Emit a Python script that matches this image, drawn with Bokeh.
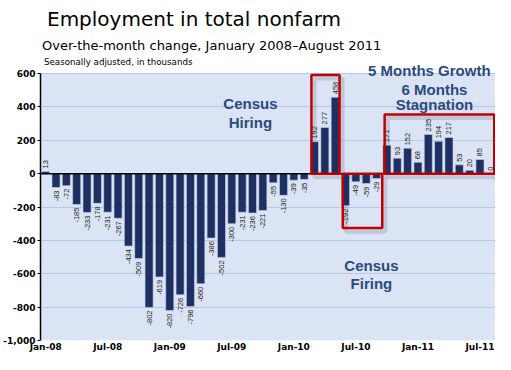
from bokeh.plotting import figure
from bokeh.models import (Range1d, FixedTicker, NumeralTickFormatter, Span, Label,
                          BoxAnnotation, ColumnDataSource)
from bokeh.core.properties import value
from bokeh.embed import file_html
from bokeh.resources import INLINE
import math

# ---- data (thousands, over-the-month change, Jan 2008 - Aug 2011) ----
changes = [13, -83, -72, -185, -233, -178, -231, -267, -434, -509, -802, -619,
           -820, -726, -796, -660, -386, -502, -300, -231, -236, -221, -55, -130,
           -39, -35, 192, 277, 458, -192, -49, -59, -29, 171, 93, 152,
           68, 235, 194, 217, 53, 20, 85, 0]
tick_labels = ["Jan-08", "Jul-08", "Jan-09", "Jul-09", "Jan-10", "Jul-10", "Jan-11", "Jul-11"]
y_ticks = [-1000, -800, -600, -400, -200, 0, 200, 400, 600]

months = list(range(len(changes)))
tick_pos = [i * 6 for i in range(len(tick_labels))]

# annotation groups: (first month index, last month index)
hiring = (26, 28)
firing = (29, 32)
stagnation = (33, 43)

NAVY = "#1e2f62"
ANN = "#2b4a7e"
RED = "#c00000"
Y_MIN, Y_MAX = y_ticks[0], y_ticks[-1]
Y_TOP = 1038  # frame extends above the blue plot area to hold the titles

p = figure(width=495, height=354, x_range=Range1d(-0.5, 43.5), y_range=Range1d(Y_MIN, Y_TOP),
           output_backend="svg", toolbar_location=None,
           min_border_left=34, min_border_right=0, min_border_top=0, min_border_bottom=0)
p.background_fill_color = "white"
p.border_fill_color = "white"
p.outline_line_color = None

p.add_layout(BoxAnnotation(bottom=Y_MIN, top=Y_MAX, fill_color="#dbe4f4", fill_alpha=1,
                           line_color=None, level="image"))

p.xgrid.visible = False
p.ygrid.ticker = FixedTicker(ticks=y_ticks)
p.ygrid.grid_line_color = "#b5c8e9"
p.ygrid.grid_line_width = 1

# y axis
p.yaxis.ticker = FixedTicker(ticks=y_ticks)
p.yaxis.bounds = (Y_MIN, Y_MAX)
p.yaxis.formatter = NumeralTickFormatter(format="0,0")
p.yaxis.axis_line_color = "black"
p.yaxis.axis_line_width = 1.5
p.yaxis.major_tick_line_color = "black"
p.yaxis.major_tick_out = 3
p.yaxis.major_tick_in = 0
p.yaxis.minor_tick_line_color = None
p.yaxis.minor_tick_out = 0
p.yaxis.minor_tick_in = 0
p.yaxis.axis_label_standoff = 0
p.yaxis.major_label_standoff = 2
p.yaxis.major_label_text_font = "DejaVu Sans"
p.yaxis.major_label_text_font_style = "bold"
p.yaxis.major_label_text_font_size = "9px"
p.yaxis.major_label_text_color = "black"

# x axis
p.xaxis.ticker = FixedTicker(ticks=tick_pos)
p.xaxis.major_label_overrides = {t: l for t, l in zip(tick_pos, tick_labels)}
p.xaxis.axis_line_color = None
p.xaxis.major_tick_line_color = None
p.xaxis.minor_tick_line_color = None
p.xaxis.major_tick_out = 0
p.xaxis.major_tick_in = 0
p.xaxis.minor_tick_out = 0
p.xaxis.minor_tick_in = 0
p.xaxis.axis_label_standoff = 0
p.xaxis.major_label_standoff = 1
p.xaxis.major_label_text_font = "DejaVu Sans"
p.xaxis.major_label_text_font_style = "bold"
p.xaxis.major_label_text_font_size = "9px"
p.xaxis.major_label_text_color = "black"

# red boxes with soft shadows
def add_box(group, pad_l, pad_r, bottom, top):
    l, r = group[0] - pad_l, group[1] + pad_r
    p.add_layout(BoxAnnotation(left=l + 0.3, right=r + 0.3, bottom=bottom - 22, top=top - 22,
                               fill_alpha=0, line_color="#7d8699", line_alpha=0.3,
                               line_width=4, level="underlay"))
    p.add_layout(BoxAnnotation(left=l, right=r, bottom=bottom, top=top,
                               fill_alpha=0, line_color=RED, line_alpha=1, line_width=2.5,
                               level="overlay"))

# bars
src = ColumnDataSource(dict(x=months, top=changes))
p.vbar(x="x", top="top", bottom=0, width=0.78, source=src, fill_color=NAVY,
       line_color="#c9d5ee", line_width=0.6)

p.add_layout(Span(location=0, dimension="width", line_color="black", line_width=1.5))

# value labels
pos = [(m, v) for m, v in zip(months, changes) if v >= 0]
neg = [(m, v) for m, v in zip(months, changes) if v < 0]
src_pos = ColumnDataSource(dict(x=[a for a, _ in pos], y=[b for _, b in pos], t=[str(b) for _, b in pos]))
src_neg = ColumnDataSource(dict(x=[a for a, _ in neg], y=[b for _, b in neg], t=[str(b) for _, b in neg]))
p.text(x="x", y="y", text="t", source=src_pos, angle=math.pi / 2, text_align="left",
       text_baseline="middle", y_offset=-3, text_font=value("Liberation Sans"),
       text_font_size="7.5px", text_color="#1a1a1a")
p.text(x="x", y="y", text="t", source=src_neg, angle=math.pi / 2, text_align="right",
       text_baseline="middle", y_offset=3, text_font=value("Liberation Sans"),
       text_font_size="7.5px", text_color="#1a1a1a")

add_box(hiring, 0.3, 0.42, 0, 592)
add_box(firing, 0.27, 0.55, -326, 0)
add_box(stagnation, 0.22, 0.38, 0, 355)

# annotation texts
def ann(text, x, y):
    p.add_layout(Label(x=x, y=y, text=text, text_align="center", text_baseline="alphabetic",
                       text_font="Liberation Sans", text_font_style="bold",
                       text_font_size="15px", text_color=ANN))

ann("Census", 19.8, 421)
ann("Hiring", 19.8, 304)
ann("5 Months Growth", 37.1, 616)
ann("6 Months", 37.6, 507)
ann("Stagnation", 37.6, 415)
ann("Census", 31.5, -550)
ann("Firing", 31.5, -661)

# titles, above the plot area
def title(text, x, y, size, font="DejaVu Sans"):
    p.add_layout(Label(x=x, y=y, x_units="screen", text=text,
                       text_align="left", text_baseline="alphabetic", text_font=font,
                       text_font_size=size, text_color="black"))

title("Employment in total nonfarm", 6.5, 925, "20px")
title("Over-the-month change, January 2008\u2013August 2011", 1.5, 767, "13px")
title("Seasonally adjusted, in thousands", 3.5, 672, "8.7px")

open("out.html", "w").write(file_html(p, INLINE))
